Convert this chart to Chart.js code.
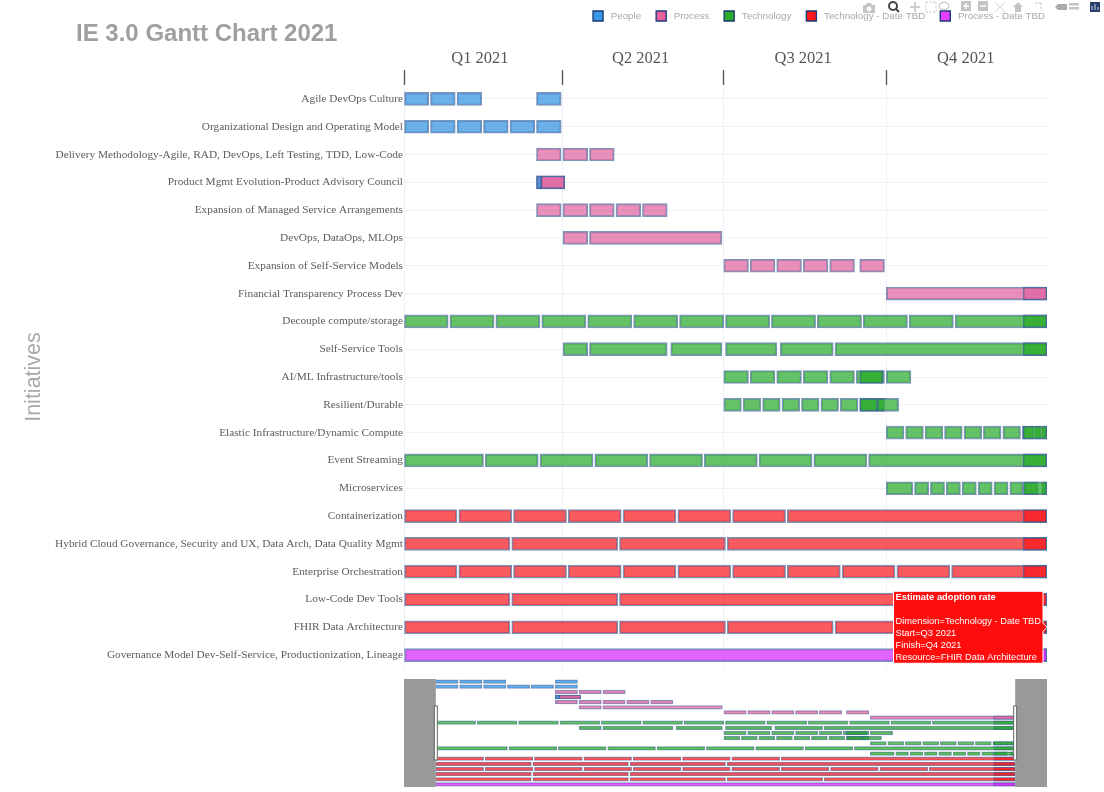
<!DOCTYPE html>
<html>
<head>
<meta charset="utf-8">
<title>IE 3.0 Gantt Chart 2021</title>
<script src="https://cdn.jsdelivr.net/npm/chart.js@4"></script>
<style>
  html, body { margin: 0; background: #fff; overflow: hidden; }
  #page { position: relative; width: 1104px; height: 792px; }
  #gantt { position: absolute; left: 0; top: 0; }
  #slider { position: absolute; left: 404px; top: 679px; }
  #modebar { position: absolute; left: 860px; top: 0; }
</style>
</head>
<body>
<div id="page">
  <canvas id="gantt" width="1104" height="792"></canvas>
  <canvas id="slider" width="643" height="108"></canvas>
  <svg id="modebar" width="244" height="16" fill="#c4c4c4" stroke="none">
    <!-- camera -->
    <path d="M3 5h3l1-2h4l1 2h3v8H3z"/><circle cx="9" cy="9" r="2.4" fill="#fff"/>
    <!-- zoom -->
    <circle cx="33" cy="6" r="4" fill="none" stroke="#444" stroke-width="2"/><path d="M36 9l3 3" stroke="#444" stroke-width="2"/>
    <!-- pan -->
    <path d="M50 7h10M55 2v10" stroke="#c4c4c4" stroke-width="1.6"/>
    <!-- box and lasso -->
    <rect x="66" y="2" width="10" height="10" fill="none" stroke="#c4c4c4" stroke-dasharray="2 1.5"/>
    <ellipse cx="84" cy="6" rx="5" ry="3.6" fill="none" stroke="#c4c4c4" stroke-width="1.2"/>
    <!-- zoom in, zoom out -->
    <path d="M101 1h10v10h-10z"/><path d="M103 6h6M106 3v6" stroke="#fff" stroke-width="1.4"/>
    <path d="M118 1h10v10h-10z"/><path d="M120 6h6" stroke="#fff" stroke-width="1.4"/>
    <!-- autoscale -->
    <path d="M135 2l10 10M145 2l-10 10" stroke="#c4c4c4" stroke-width="1" stroke-dasharray="2 1"/>
    <!-- home -->
    <path d="M153 7l5-5 5 5h-2v5h-6V7z"/>
    <!-- spikes -->
    <path d="M175 3h6M181 3v6" stroke="#c4c4c4" stroke-width="1.2" stroke-dasharray="2 1.5"/>
    <!-- hover closest, hover compare -->
    <path d="M195 7l3-3h9v6h-9z" fill="#aaa"/>
    <path d="M209 3h10v2.4h-10zM209 7h10v2.4h-10z"/>
    <!-- logo -->
    <rect x="230" y="2" width="10" height="10" fill="#2a3f6e"/><path d="M232 10V6M235 10V4M238 10V7" stroke="#cfd6e6" stroke-width="1"/>
  </svg>
</div>
<script>
// Initiatives top to bottom
const initiatives = [
  'Agile DevOps Culture',
  'Organizational Design and Operating Model',
  'Delivery Methodology-Agile, RAD, DevOps, Left Testing, TDD, Low-Code',
  'Product Mgmt Evolution-Product Advisory Council',
  'Expansion of Managed Service Arrangements',
  'DevOps, DataOps, MLOps',
  'Expansion of Self-Service Models',
  'Financial Transparency Process Dev',
  'Decouple compute/storage',
  'Self-Service Tools',
  'AI/ML Infrastructure/tools',
  'Resilient/Durable',
  'Elastic Infrastructure/Dynamic Compute',
  'Event Streaming',
  'Microservices',
  'Containerization',
  'Hybrid Cloud Governance, Security and UX, Data Arch, Data Quality Mgmt',
  'Enterprise Orchestration',
  'Low-Code Dev Tools',
  'FHIR Data Architecture',
  'Governance Model Dev-Self-Service, Productionization, Lineage'
];

// Tasks per initiative, [start, finish] in days from 1 Jan 2021
const agileCulture = [[0, 14], [15, 29], [30, 44], [75, 89]];
const orgDesign = [[0, 14], [15, 29], [30, 44], [45, 59], [60, 74], [75, 89]];
const deliveryMethod = [[75, 89], [90, 104], [105, 119]];
const productMgmtPeople = [[75, 78]];
const productMgmt = [[75, 91], [77.5, 91]];
const managedService = [[75, 89], [90, 104], [105, 119], [120, 134], [135, 149]];
const devOpsMlOps = [[90, 104], [105, 180]];
const selfServiceModels = [[181, 195], [196, 210], [211, 225], [226, 240], [241, 255], [258, 272]];
const financialDev = [[273, 364], [350.5, 364]];
const decoupleStorage = [[0, 25], [26, 51], [52, 77], [78, 103], [104, 129], [130, 155], [156, 181], [182, 207], [208, 233], [234, 259], [260, 285], [286, 311], [312, 364], [350.5, 364]];
const selfServiceTools = [[90, 104], [105, 149], [151, 180], [182, 211], [213, 243], [244, 364], [350.5, 364]];
const aiMlTools = [[181, 195], [196, 210], [211, 225], [226, 240], [241, 255], [256, 272], [258, 271], [273, 287]];
const resilient = [[181, 191], [192, 202], [203, 213], [214, 224], [225, 235], [236, 246], [247, 257], [258, 272], [258, 268], [268, 280]];
const elasticCompute = [[273, 283], [284, 294], [295, 305], [306, 316], [317, 327], [328, 338], [339, 349], [350, 356.5], [357, 360.5], [361, 364], [350.5, 364]];
const eventStreaming = [[0, 45], [46, 76], [77, 107], [108, 138], [139, 169], [170, 200], [201, 231], [232, 262], [263, 364], [350.5, 364]];
const microservices = [[273, 288], [289, 297], [298, 306], [307, 315], [316, 324], [325, 333], [334, 342], [343, 350.5], [351, 359], [361, 364], [350.5, 364]];
const containerization = [[0, 30], [31, 61], [62, 92], [93, 123], [124, 154], [155, 185], [186, 216], [217, 364], [350.5, 364]];
const hybridGovernance = [[0, 60], [61, 121], [122, 182], [183, 364], [350.5, 364]];
const orchestration = [[0, 30], [31, 61], [62, 92], [93, 123], [124, 154], [155, 185], [186, 216], [217, 247], [248, 278], [279, 309], [310, 364], [350.5, 364]];
const lowCodeTools = [[0, 60], [61, 121], [122, 364], [350.5, 364]];
const fhirArchitecture = [[0, 60], [61, 121], [122, 182], [183, 243], [244, 364], [350.5, 364]];
const governanceModel = [[0, 364], [350.5, 364]];

// Legend order, rows in each dimension
const dimensionNames = ['People', 'Process', 'Technology', 'Technology - Date TBD', 'Process - Date TBD'];
const dimensionRows = [
  [[0, agileCulture], [1, orgDesign], [3, productMgmtPeople]],
  [[2, deliveryMethod], [3, productMgmt], [4, managedService], [5, devOpsMlOps], [6, selfServiceModels], [7, financialDev]],
  [[8, decoupleStorage], [9, selfServiceTools], [10, aiMlTools], [11, resilient], [12, elasticCompute], [13, eventStreaming], [14, microservices]],
  [[15, containerization], [16, hybridGovernance], [17, orchestration], [18, lowCodeTools], [19, fhirArchitecture]],
  [[20, governanceModel]]
];
const dimensionFills = ['rgba(45,142,225,0.7)', 'rgba(222,95,156,0.7)', 'rgba(37,168,37,0.7)', 'rgba(248,21,25,0.7)', 'rgba(211,37,255,0.7)'];
const legendFills = ['#3a96e8', '#ea5f9b', '#2bae2b', '#ff1a1a', '#e83cff'];

const quarterStarts = [0, 90, 181, 273];
const quarterCenters = [43, 134, 226, 318];
const quarterLabels = ['Q1 2021', 'Q2 2021', 'Q3 2021', 'Q4 2021'];

const tooltipTitle = ['Estimate adoption rate', ''];
const tooltipLines = ['Dimension=Technology - Date TBD', 'Start=Q3 2021', 'Finish=Q4 2021', 'Resource=FHIR Data Architecture'];

function buildDatasets(thickness, borderWidth) {
  return dimensionNames.map((name, d) => ({
    label: name,
    data: dimensionRows[d].flatMap(([row, tasks]) =>
      tasks.map(t => ({ x: t, y: initiatives[row] }))),
    backgroundColor: dimensionFills[d],
    borderColor: 'rgba(45,85,145,0.62)',
    borderWidth: borderWidth,
    borderSkipped: false,
    barThickness: thickness,
    grouped: false
  }));
}

// Title and legend sit where the plotly layout had them, not in the box stack
const headerPlacement = {
  id: 'headerPlacement',
  afterLayout(chart) {
    chart.titleBlock.left = 76;
    chart.legend.right = 1060;
  }
};

const gantt = new Chart(document.getElementById('gantt'), {
  type: 'bar',
  data: { labels: initiatives, datasets: buildDatasets(13, 1.4) },
  options: {
    indexAxis: 'y',
    responsive: false,
    animation: false,
    events: [],
    layout: { padding: { left: 0, right: 57, top: -4, bottom: 123 } },
    scales: {
      x: {
        position: 'top',
        min: 0,
        max: 364,
        afterBuildTicks: s => { s.ticks = quarterStarts.map(v => ({ value: v })); },
        afterFit: s => { s.height = 15; },
        ticks: { display: false },
        border: { display: false },
        grid: { color: '#eef1f9', tickColor: '#5a5a5a', tickLength: 15, tickWidth: 1.4, drawTicks: true }
      },
      x2: {
        axis: 'x',
        position: 'top',
        weight: 1,
        min: 0,
        max: 364,
        afterBuildTicks: s => { s.ticks = quarterCenters.map(v => ({ value: v })); },
        afterFit: s => { s.height = 23; },
        ticks: {
          callback: (v, i) => quarterLabels[i],
          autoSkip: false,
          maxRotation: 0,
          padding: 1,
          color: '#555',
          font: { family: 'Liberation Serif', size: 16.5 }
        },
        border: { display: false },
        grid: { display: false, drawTicks: false }
      },
      y: {
        afterFit: s => { s.width = 404; },
        ticks: {
          autoSkip: false,
          padding: 1,
          color: '#5c5c5c',
          font: { family: 'Liberation Serif', size: 11.3 }
        },
        border: { display: false },
        grid: { offset: false, color: '#eef1f9', drawTicks: false },
        title: {
          display: true,
          text: 'Initiatives',
          color: '#a8a8a8',
          font: { family: 'Liberation Sans', size: 21.5 },
          padding: { top: 21, bottom: 0 }
        }
      }
    },
    plugins: {
      title: {
        display: true,
        text: 'IE 3.0 Gantt Chart 2021',
        align: 'start',
        color: '#a09e9e',
        font: { family: 'Liberation Sans', size: 24, weight: 'bold' },
        padding: { top: -11.4, bottom: -1.4 }
      },
      legend: {
        position: 'top',
        align: 'end',
        weight: 3000,
        labels: {
          color: '#a8a8a8',
          font: { family: 'Liberation Sans', size: 9.8 },
          boxWidth: 10,
          boxHeight: 10,
          padding: 15,
          generateLabels: () => dimensionNames.map((name, d) => ({
            text: ' ' + name,
            fillStyle: legendFills[d],
            strokeStyle: '#1d3a78',
            lineWidth: 1.4,
            datasetIndex: d,
            fontColor: '#a8a8a8'
          }))
        }
      },
      tooltip: {
        position: 'average',
        xAlign: 'right',
        yAlign: 'center',
        backgroundColor: '#ff0d0d',
        borderColor: '#fff',
        borderWidth: 1,
        cornerRadius: 0,
        caretSize: 4,
        caretPadding: 0,
        displayColors: false,
        padding: { left: 2, right: 2, top: 0, bottom: 0 },
        titleColor: '#fff',
        bodyColor: '#fff',
        titleFont: { family: 'Liberation Sans', size: 9.3, weight: 'bold', lineHeight: 1.29 },
        bodyFont: { family: 'Liberation Sans', size: 9.3, lineHeight: 1.29 },
        titleMarginBottom: 0,
        titleSpacing: 0,
        bodySpacing: 0,
        callbacks: {
          title: () => tooltipTitle,
          label: () => tooltipLines
        }
      }
    }
  },
  plugins: [headerPlacement]
});

// Tooltip stays open on the FHIR Data Architecture overlap bar
const redIndex = dimensionNames.indexOf('Technology - Date TBD');
const lastRedBar = gantt.data.datasets[redIndex].data.length - 1;
gantt.tooltip.setActiveElements([{ datasetIndex: redIndex, index: lastRedBar }], { x: 0, y: 0 });
gantt.update();

// Grey outer parts and white handles of the range slider
const sliderMasks = {
  id: 'sliderMasks',
  afterDatasetsDraw(chart) {
    const { ctx, scales: { x }, chartArea: a } = chart;
    const left = x.getPixelForValue(0);
    const right = x.getPixelForValue(364);
    ctx.save();
    ctx.fillStyle = '#999';
    ctx.fillRect(a.left, a.top, left - a.left, a.bottom - a.top);
    ctx.fillRect(right, a.top, a.right - right, a.bottom - a.top);
    const mid = (a.top + a.bottom) / 2;
    ctx.fillStyle = '#fff';
    ctx.strokeStyle = '#666';
    [left, right].forEach(px => {
      ctx.fillRect(px - 1.5, mid - 27, 3, 54);
      ctx.strokeRect(px - 1.5, mid - 27, 3, 54);
    });
    ctx.restore();
  }
};

new Chart(document.getElementById('slider'), {
  type: 'bar',
  data: { labels: initiatives, datasets: buildDatasets(3.6, 0.8) },
  options: {
    indexAxis: 'y',
    responsive: false,
    animation: false,
    events: [],
    layout: { padding: 0 },
    scales: {
      x: { display: false, min: -20, max: 384 },
      y: { display: false }
    },
    plugins: { legend: { display: false }, title: { display: false }, tooltip: { enabled: false } }
  },
  plugins: [sliderMasks]
});
</script>
</body>
</html>
